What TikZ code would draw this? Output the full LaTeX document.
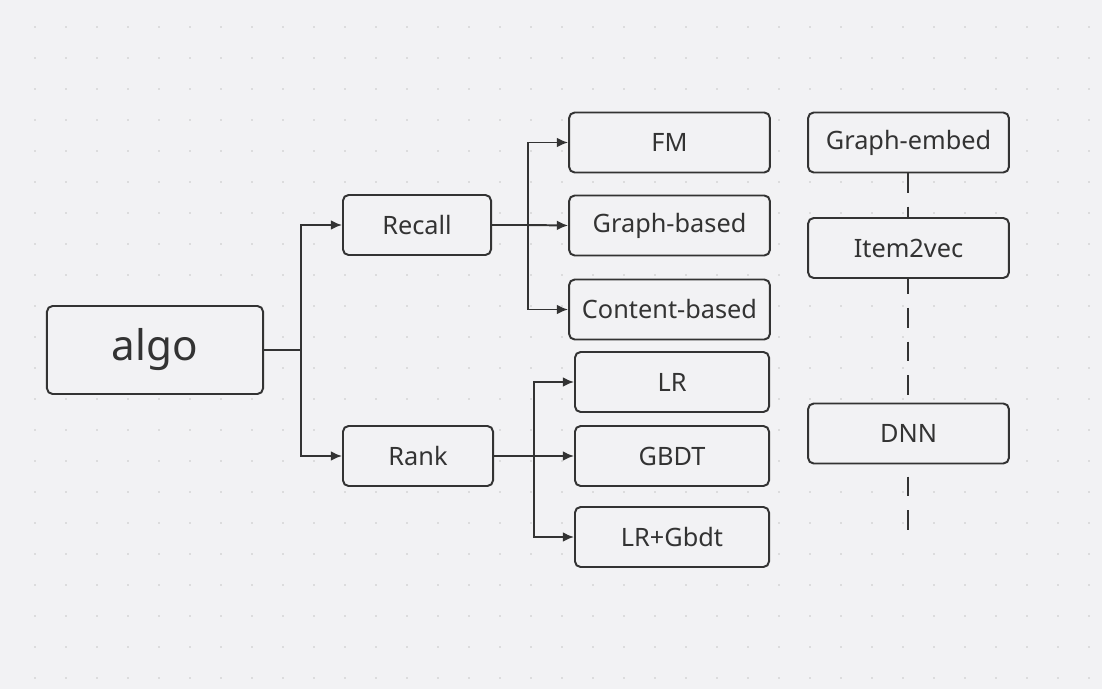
\documentclass[tikz,border=0pt]{standalone}
\usepackage{fontspec}
\setmainfont{Noto Sans}
\usetikzlibrary{positioning, arrows.meta}
\definecolor{bgcol}{HTML}{F2F2F4}
\definecolor{linecol}{HTML}{333333}
\tikzset{
  box/.style={draw=linecol, line width=1.4pt, rounded corners=4pt, fill=bgcol,
    minimum height=1.5cm, inner sep=0pt, font=\fontsize{18}{20}\selectfont, text=linecol},
  link/.style={draw=linecol, line width=1.4pt},
  tip/.style={link, -{Latex[length=8pt,width=7pt]}}
}
\begin{document}
\begin{tikzpicture}[x=0.025cm, y=-0.025cm]
        \fill[bgcol] (0,0) rectangle (1102,689);
        \useasboundingbox (0,0) rectangle (1102,689);
        % grid of dots
        \foreach \gx in {35,66,...,1100}
          \foreach \gy in {27,58,...,689}
            \fill[gray!45] (\gx,\gy) circle[radius=0.9];
        % dashed spine
        \coordinate (spineT) at (908,173);
        \coordinate (spineB) at (908,538);
        \draw[link, dash pattern=on 14pt off 10pt] (spineT) -- (spineB);
        % boxes
        \node[box, minimum width=5.4cm, minimum height=2.2cm, font=\fontsize{30}{32}\selectfont] (algo) at (155,350) {algo};
        \node[box, minimum width=3.7cm] (recall) at (417,225) {Recall};
        \node[box, minimum width=3.75cm] (rank) at (418,456) {Rank};
        \node[box, minimum width=5.02cm] (fm) at (669.5,142.5) {FM};
        \node[box, minimum width=5.02cm] (graph) at (669.5,225.5) {Graph-based};
        \node[box, minimum width=5.02cm] (content) at (669.5,309.5) {Content-based};
        \node[box, minimum width=4.85cm] (lr) at (672,382) {LR};
        \node[box, minimum width=4.85cm] (gbdt) at (672,456) {GBDT};
        \node[box, minimum width=4.85cm] (lrgbdt) at (672,537) {LR+Gbdt};
        \node[box, minimum width=5.02cm] (gembed) at (908.5,142.5) {Graph-embed};
        \node[box, minimum width=5.02cm] (item) at (908.5,248) {Item2vec};
        \node[box, minimum width=5.02cm] (dnn) at (908.5,433.5) {DNN};
        % branches
        \coordinate (j1) at (301,350);
        \coordinate (j2) at (528,225);
        \coordinate (j3) at (534,456);
        \draw[link] (algo.east) -- (j1);
        \draw[tip] (j1) |- (recall.west);
        \draw[tip] (j1) |- (rank.west);
        \draw[link] (recall.east) -- (j2);
        \draw[tip] (j2) |- (fm.west);
        \draw[tip] (j2) -- (graph.west);
        \draw[tip] (j2) |- (content.west);
        \draw[link] (rank.east) -- (j3);
        \draw[tip] (j3) |- (lr.west);
        \draw[tip] (j3) -- (gbdt.west);
        \draw[tip] (j3) |- (lrgbdt.west);
\end{tikzpicture}
\end{document}
